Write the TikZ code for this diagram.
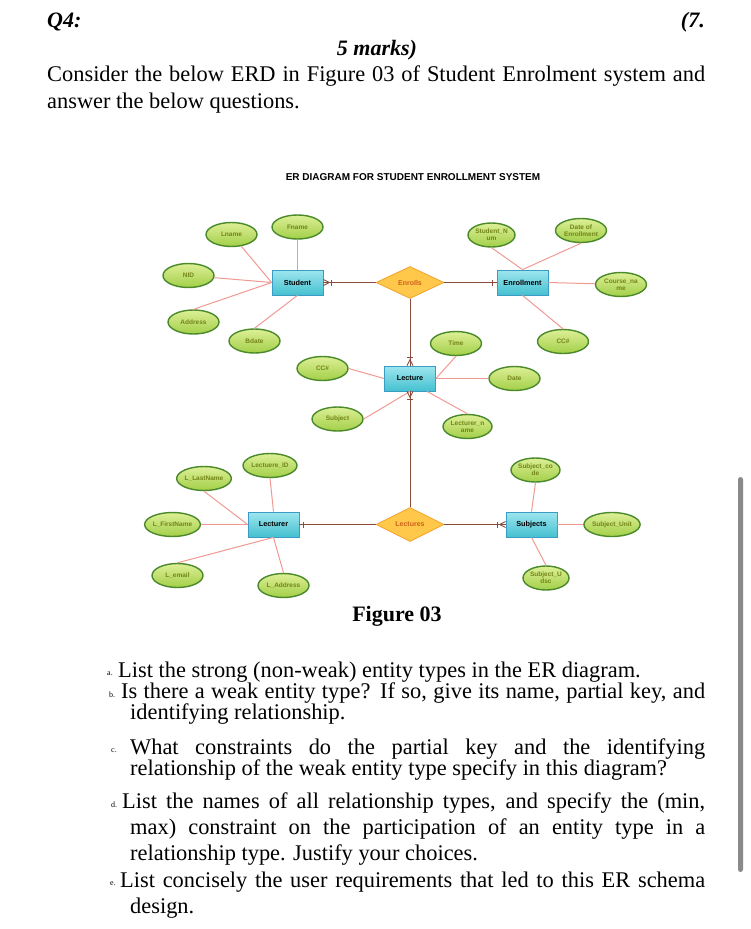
\documentclass[tikz,border=0pt]{standalone}
\usepackage{fontspec}
\setmainfont{Liberation Serif}
\setsansfont{Liberation Sans}
\usetikzlibrary{shapes.geometric,calc}
\definecolor{entTop}{HTML}{9EE6EE}
\definecolor{entBot}{HTML}{45C0D0}
\definecolor{entBorder}{HTML}{3A9CC4}
\definecolor{attrTop}{HTML}{DDEF96}
\definecolor{attrBot}{HTML}{A2CF48}
\definecolor{attrBorder}{HTML}{4A8A2A}
\definecolor{attrText}{HTML}{738418}
\definecolor{relFill}{HTML}{FFC84A}
\definecolor{relBorder}{HTML}{F2A22A}
\definecolor{relText}{HTML}{CC601A}
\definecolor{relLine}{HTML}{8B4A3A}
\definecolor{attrLine}{HTML}{F09A92}
\definecolor{barGray}{HTML}{8A8A8A}
\begin{document}
\begin{tikzpicture}[x=1pt,y=-1pt,
  entity/.style={draw=entBorder, line width=0.8pt, top color=entTop, bottom color=entBot,
    minimum width=51pt, minimum height=25pt, inner sep=0pt,
    font=\sffamily\bfseries\fontsize{7.3}{8}\selectfont, text=black},
  attr/.style={ellipse, draw=attrBorder, line width=1.4pt, top color=attrTop, bottom color=attrBot,
    minimum width=51pt, minimum height=24pt, inner sep=0pt, align=center,
    font=\sffamily\bfseries\fontsize{6.5}{7.2}\selectfont, text=attrText},
  rel/.style={diamond, draw=relBorder, line width=0.8pt, fill=relFill,
    minimum width=68pt, minimum height=32pt, inner sep=0pt,
    font=\sffamily\bfseries\fontsize{7}{8}\selectfont, text=relText},
  alink/.style={draw=attrLine, line width=1pt},
  rlink/.style={draw=relLine, line width=0.9pt},
  crowfoot/.pic={\draw[rlink] (0,-3) -- (6,0) -- (0,3); \draw[rlink] (8,-3) -- (8,3);},
  onebar/.pic={\draw[rlink] (4,-3) -- (4,3);},
  body/.style={inner sep=0pt, font=\fontsize{22.4}{26}\selectfont, text=black},
  lbl/.style={inner sep=0pt, font=\fontsize{8}{9}\selectfont, text=black}
]
\useasboundingbox (0,0) rectangle (750,929);
\fill[white] (0,0) rectangle (750,929);

% header text
\node[body, anchor=west, font=\fontsize{22}{26}\selectfont\bfseries\itshape] (q4) at (47,22) {Q4:};
\node[body, anchor=east, font=\fontsize{22}{26}\selectfont\bfseries\itshape] (marks1) at (705,22) {(7.};
\node[body, font=\fontsize{22}{26}\selectfont\bfseries\itshape] (marks2) at (377,50) {5 marks)};
\node[body, anchor=west] (intro1) at (47,76) {\makebox[658pt][s]{Consider the below ERD in Figure 03 of Student Enrolment system and}};
\node[body, anchor=west] (intro2) at (47,103) {answer the below questions.};

% diagram title
\node[inner sep=0pt, font=\sffamily\bfseries\fontsize{10}{11}\selectfont] (title) at (413,177) {ER DIAGRAM FOR STUDENT ENROLLMENT SYSTEM};

% entities
\node[entity] (student) at (297.5,282.5) {Student};
\node[entity] (enrollment) at (522.5,282.5) {Enrollment};
\node[entity] (lecture) at (410,378.5) {Lecture};
\node[entity] (lecturer) at (273.5,524.5) {Lecturer};
\node[entity] (subjects) at (531.5,524.5) {Subjects};

% relationships
\node[rel] (enrolls) at (410,282.5) {Enrolls};
\node[rel] (lectures) at (410,524.5) {Lectures};

% attributes
\node[attr] (lname) at (231.5,234.5) {Lname};
\node[attr] (fname) at (297.5,227) {Fname};
\node[attr] (nid) at (188.5,275.5) {NID};
\node[attr] (address) at (193.5,322) {Address};
\node[attr] (bdate) at (254.5,341) {Bdate};
\node[attr, minimum width=47pt] (snum) at (491.5,235) {Student\_N\\um};
\node[attr] (doe) at (581,230.5) {Date of\\Enrollment};
\node[attr] (cname) at (621,284.5) {Course\_na\\me};
\node[attr] (cca) at (563,341.5) {CC\#};
\node[attr] (time) at (456,343.5) {Time};
\node[attr] (ccb) at (322.5,368.5) {CC\#};
\node[attr] (subject) at (337.5,419) {Subject};
\node[attr] (date) at (514.5,378.5) {Date};
\node[attr, minimum width=49pt] (lname2) at (467.5,426.5) {Lecturer\_n\\ame};
\node[attr, minimum width=54pt] (lid) at (270,465.5) {Lectuere\_ID};
\node[attr, minimum width=54pt] (llast) at (204,478.5) {L\_LastName};
\node[attr] (lfirst) at (172.5,524.5) {L\_FirstName};
\node[attr] (lemail) at (177.5,575.5) {L\_email};
\node[attr] (laddr) at (283.5,585.5) {L\_Address};
\node[attr, minimum width=49pt] (scode) at (535.5,470) {Subject\_co\\de};
\node[attr] (sunit) at (612,524.5) {Subject\_Unit};
\node[attr, minimum width=46pt] (sudsc) at (546,578) {Subject\_U\\dsc};

% attribute links
\draw[alink] (lname) -- (student.west);
\draw[alink] (nid) -- (student.west);
\draw[alink] (address.north) -- (student.west);
\draw[alink] (bdate.north) -- (student.south);
\draw[alink] (fname) -- (student.north);
\draw[alink] (snum.south) -- (enrollment.north);
\draw[alink] (doe.south) -- (enrollment.north);
\draw[alink] (enrollment.east) -- (cname);
\draw[alink] (enrollment.south) -- (cca.north);
\draw[alink] (time.south) -- (lecture.east);
\draw[alink] (lecture.east) -- (date);
\draw[alink] ($(lecture.south)+(17,0)$) -- (lname2.north);
\draw[alink] (subject.east) -- (lecture.south);
\draw[alink] (ccb.east) -- (lecture.west);
\draw[alink] (lid.south) -- (lecturer.north);
\draw[alink] (llast.south) -- (lecturer.west);
\draw[alink] (lfirst.east) -- (lecturer.west);
\draw[alink] (lemail.north) -- (lecturer.south);
\draw[alink] (laddr.north) -- (lecturer.south);
\draw[alink] (scode.south) -- (subjects.north);
\draw[alink] (subjects.east) -- (sunit);
\draw[alink] (sudsc.north) -- (subjects.south);

% relationship links
\draw[rlink] (student.east) -- (enrolls.west);
\draw[rlink] (enrolls.east) -- (enrollment.west);
\draw[rlink] (enrolls.south) -- (lecture.north);
\draw[rlink] (lectures.north) -- (lecture.south);
\draw[rlink] (lectures.west) -- (lecturer.east);
\draw[rlink] (lectures.east) -- (subjects.west);
\pic at (student.east) {crowfoot};
\pic[rotate=180] at (enrollment.west) {onebar};
\pic[rotate=90] at (lecture.north) {crowfoot};
\pic[rotate=-90] at (lecture.south) {crowfoot};
\pic at (lecturer.east) {onebar};
\pic[rotate=180] at (subjects.west) {crowfoot};

% figure caption
\node[body, font=\fontsize{22}{26}\selectfont\bfseries] (fig) at (397,616) {Figure 03};

% questions
\node[lbl, anchor=west] (la) at (107,674) {a.};
\node[body, anchor=west] (qa) at (118,672) {List the strong (non-weak) entity types in the ER diagram.};
\node[lbl, anchor=west] (lb) at (109,695) {b.};
\node[body, anchor=west] (qb1) at (121,693) {\makebox[584pt][s]{Is there a weak entity type? If so, give its name, partial key, and}};
\node[body, anchor=west] (qb2) at (130,714) {identifying relationship.};
\node[lbl, anchor=west] (lc) at (111,751) {c.};
\node[body, anchor=west] (qc1) at (130,749) {\makebox[575pt][s]{What constraints do the partial key and the identifying}};
\node[body, anchor=west] (qc2) at (130,770) {relationship of the weak entity type specify in this diagram?};
\node[lbl, anchor=west] (ld) at (111,805) {d.};
\node[body, anchor=west] (qd1) at (122,803) {\makebox[583pt][s]{List the names of all relationship types, and specify the (min,}};
\node[body, anchor=west] (qd2) at (130,829) {\makebox[575pt][s]{max) constraint on the participation of an entity type in a}};
\node[body, anchor=west] (qd3) at (130,855) {relationship type. Justify your choices.};
\node[lbl, anchor=west] (le) at (110,884) {e.};
\node[body, anchor=west] (qe1) at (120,882) {\makebox[585pt][s]{List concisely the user requirements that led to this ER schema}};
\node[body, anchor=west] (qe2) at (130,908) {design.};

% scrollbar
\fill[barGray, rounded corners=2.5pt] (738,477) rectangle (743,872);
\end{tikzpicture}
\end{document}
